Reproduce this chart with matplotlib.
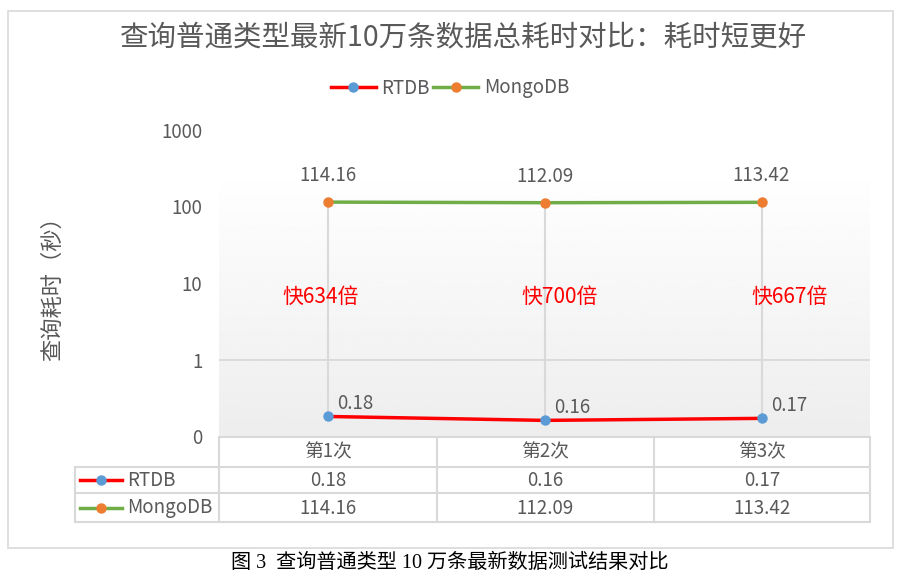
import matplotlib.pyplot as plt
import numpy as np
from matplotlib.lines import Line2D
from matplotlib.patches import Rectangle

plt.rcParams['font.family'] = ['Noto Sans CJK SC', 'DejaVu Sans']

# data
rounds = ['第1次', '第2次', '第3次']
rtdb = [0.18, 0.16, 0.17]
mongo = [114.16, 112.09, 113.42]
series_names = ['RTDB', 'MongoDB']

grey_txt = '#595959'
grid_col = '#D9D9D9'
red = '#FF0000'
green = '#70AD47'
blue = '#5B9BD5'
orange = '#ED7D31'
fs = 13.5

W, H = 910, 583
fig = plt.figure(figsize=(W / 100, H / 100), dpi=100)

def fx(px):
    return px / W

def fy(py):
    return 1 - py / H

# outer chart border
fig.patches.append(Rectangle((fx(8), fy(548)), fx(885), 537 / H, transform=fig.transFigure,
                             fill=False, edgecolor=grid_col, lw=1.2))

ax = fig.add_axes([fx(219), fy(436), fx(651), (436 - 130) / H])
x = np.arange(len(rounds))
ax.set_yscale('log')
ax.set_ylim(0.1, 1000)
ax.set_xlim(-0.5, len(rounds) - 0.5)

# gradient background
grad = np.linspace(0.93, 1.0, 256).reshape(-1, 1)
ax.imshow(grad, cmap='gray', vmin=0, vmax=1, aspect='auto', origin='lower',
          extent=[0, 1, 0, 0.88], transform=ax.transAxes, zorder=0)

# horizontal axis line crosses at 1
ax.axhline(1, color=grid_col, lw=1.3, zorder=1)

# high-low lines
ax.vlines(x, rtdb, mongo, color=grid_col, lw=1.5, zorder=1)

ax.plot(x, rtdb, color=red, lw=2.5, marker='o', ms=6.5, mfc=blue, mec=blue, zorder=3, label=series_names[0])
ax.plot(x, mongo, color=green, lw=2.5, marker='o', ms=6.5, mfc=orange, mec=orange, zorder=3, label=series_names[1])

for i in x:
    ax.annotate(f'{mongo[i]:.2f}', (i, mongo[i]), xytext=(0, 19), textcoords='offset points',
                ha='center', va='center', fontsize=fs, color=grey_txt)
    ax.annotate(f'{rtdb[i]:.2f}', (i, rtdb[i]), xytext=(7, 9.5), textcoords='offset points',
                ha='left', va='center', fontsize=fs, color=grey_txt)

# speedup notes
note_dx = [-0.03, 0.07, 0.13]
for i in x:
    ax.text(i + note_dx[i], 6.5, f'快{int(mongo[i] / rtdb[i])}倍', ha='center', va='center',
            fontsize=15, color=red)

ax.set_yticks([0.1, 1, 10, 100, 1000])
ax.set_yticklabels(['0', '1', '10', '100', '1000'])
ax.minorticks_off()
ax.set_xticks([])
ax.tick_params(axis='y', length=0, pad=12, labelsize=fs, labelcolor=grey_txt)
for s in ax.spines.values():
    s.set_visible(False)

ax.set_ylabel('查询耗时（秒）', fontsize=16, color=grey_txt, labelpad=70)

# data table under the axes
col_edges = [219, 437, 654, 870]
row_edges = [437, 467, 493, 522]
lw_t = 1.5
fig.add_artist(Line2D([fx(219), fx(870)], [fy(437), fy(437)], color=grid_col, lw=lw_t))
for yy in row_edges[1:]:
    fig.add_artist(Line2D([fx(75), fx(870)], [fy(yy), fy(yy)], color=grid_col, lw=lw_t))
for xx in col_edges:
    fig.add_artist(Line2D([fx(xx), fx(xx)], [fy(437), fy(522)], color=grid_col, lw=lw_t))
fig.add_artist(Line2D([fx(75), fx(75)], [fy(467), fy(522)], color=grid_col, lw=lw_t))

for j, name in enumerate(rounds):
    cx = (col_edges[j] + col_edges[j + 1]) / 2
    fig.text(fx(cx), fy(452), name, ha='center', va='center', fontsize=fs, color=grey_txt)
    fig.text(fx(cx), fy(480), f'{rtdb[j]:.2f}', ha='center', va='center', fontsize=fs, color=grey_txt)
    fig.text(fx(cx), fy(508), f'{mongo[j]:.2f}', ha='center', va='center', fontsize=fs, color=grey_txt)

for k, (name, lc, mc) in enumerate([(series_names[0], red, blue), (series_names[1], green, orange)]):
    yy = fy(480 if k == 0 else 508)
    fig.add_artist(Line2D([fx(80), fx(122)], [yy, yy], color=lc, lw=2.5))
    fig.add_artist(Line2D([fx(101)], [yy], marker='o', ms=6.5, mfc=mc, mec=mc, lw=0))
    fig.text(fx(127), yy, name, ha='left', va='center', fontsize=fs, color=grey_txt)

fig.legend(loc='center', bbox_to_anchor=(fx(450), fy(88)), ncol=2, frameon=False,
           fontsize=fs, labelcolor=grey_txt, handlelength=2.4, handletextpad=0.3,
           columnspacing=0.2)

fig.text(fx(464), fy(37), '查询普通类型最新10万条数据总耗时对比：耗时短更好', ha='center', va='center',
         fontsize=20.5, color=grey_txt)

fig.text(fx(450), fy(563), '图 3  查询普通类型 10 万条最新数据测试结果对比', ha='center', va='center',
         fontsize=14.5, color='black', family=['Liberation Serif', 'Noto Sans CJK SC'])

fig.savefig('out.png', dpi=100)
